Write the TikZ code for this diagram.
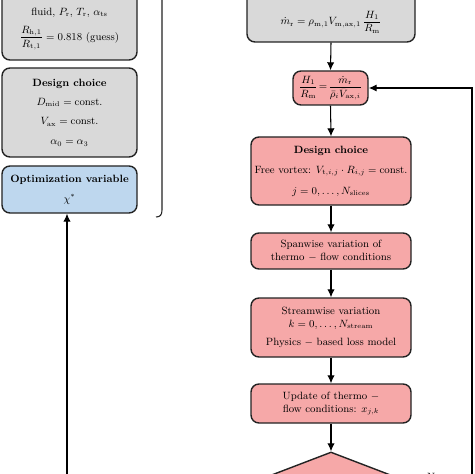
\documentclass[tikz,border=0pt]{standalone}
\usepackage{amsmath}
\usepackage{amsfonts}
\usepackage{amssymb}
\usepackage{tikz}
\usetikzlibrary{arrows.meta, shapes.geometric}

\definecolor{boxgrey}{RGB}{217,217,217}
\definecolor{boxred}{RGB}{246,168,168}
\definecolor{boxblue}{RGB}{190,215,238}
\definecolor{edge}{RGB}{35,35,35}

\tikzset{
  box/.style={draw=edge, line width=1.2pt, rounded corners=2.4mm, align=center, font=\small, inner sep=2pt},
  greybox/.style={box, fill=boxgrey},
  redbox/.style={box, fill=boxred},
  bluebox/.style={box, fill=boxblue},
  arr/.style={-{Latex[length=2.4mm,width=2.2mm]}, line width=0.9pt, draw=black},
}

\begin{document}
\begin{tikzpicture}[x=0.3mm, y=-0.3mm]
\useasboundingbox (0,0) rectangle (474,474);
\clip (0,0) rectangle (474,474);
% left column: inputs
\node[greybox, minimum width=40.5mm, minimum height=21.6mm] (fluid) at (69.5,24) {};
\node[font=\small] (fluidtxt) at (69.5,13) {fluid, $P_\mathrm{r}$, $T_\mathrm{r}$, $\alpha_\mathrm{ts}$};
\node[font=\small] (guess) at (69.5,38) {$\dfrac{R_\mathrm{h,1}}{R_\mathrm{t,1}} = 0.818$ (guess)};
\node[greybox, minimum width=40.5mm, minimum height=26.7mm] (designL) at (69.5,112.5)
  {\textbf{Design choice}\\[5pt] $D_\mathrm{mid} = \text{const.}$\\[6pt] $V_\mathrm{ax} = \text{const.}$\\[6pt] $\alpha_0 = \alpha_3$};
\node[bluebox, minimum width=40.5mm, minimum height=14.1mm] (opt) at (69.5,189.5)
  {\textbf{Optimization variable}\\[6pt] $\chi^*$};
% brace
\draw[edge, line width=0.9pt] (162,-10) -- (162,210) .. controls (162,215) and (160,217) .. (156,217);
\coordinate (optin) at (67,480);
\draw[arr] (optin) -- (optin |- opt.south);
% right column: loop
\node[greybox, minimum width=50.4mm, minimum height=15.6mm] (mdot) at (331,16) {};
\node[font=\small] (mdottxt) at (331,22) {$\dot m_\mathrm{r} = \rho_\mathrm{m,1} V_\mathrm{m,ax,1}\,\dfrac{H_1}{R_\mathrm{m}}$};
\node[redbox, inner xsep=1pt, minimum width=22.5mm, minimum height=10.2mm] (ratio) at (330.5,88)
  {$\dfrac{H_1}{R_\mathrm{m}} \!=\! \dfrac{\dot m_\mathrm{r}}{\bar\rho_i \bar V_{\mathrm{ax},i}}$};
\node[redbox, minimum width=48mm, minimum height=20.4mm] (designR) at (331,171)
  {\textbf{Design choice}\\[6pt] Free vortex: $V_{\mathrm{t},i,j}\cdot R_{i,j} = \text{const.}$\\[7pt] $j = 0,\dots,N_\mathrm{slices}$};
\node[redbox, minimum width=48mm, minimum height=10.8mm] (span) at (331,251)
  {Spanwise variation of\\ thermo $-$ flow conditions};
\node[redbox, minimum width=48mm, minimum height=17.7mm] (stream) at (331,327.5)
  {Streamwise variation\\ $k = 0,\dots,N_\mathrm{stream}$\\[4pt] Physics $-$ based loss model};
\node[redbox, minimum width=48mm, minimum height=11.7mm] (update) at (331,403.5)
  {Update of thermo $-$\\ flow conditions: $x_{j,k}$};
\node[draw=edge, fill=boxred, diamond, aspect=2.6, minimum width=75mm, minimum height=28.8mm,
  line width=1.2pt, inner sep=0pt] (check) at (331,500) {};
\node[font=\small] (nolabel) at (434,477) {No};
\draw[arr] (mdot.south) -- (ratio.north);
\draw[arr] (ratio.south) -- (designR.north);
\draw[arr] (designR.south) -- (span.north);
\draw[arr] (span.south) -- (stream.north);
\draw[arr] (stream.south) -- (update.north);
\draw[arr] (update.south) -- (check.north);
% feedback
\coordinate (fbbot) at (472,480);
\coordinate (fbtop) at (472,88);
\draw[arr, line width=1.1pt] (fbbot) -- (fbtop) -- (ratio.east);
\end{tikzpicture}
\end{document}
